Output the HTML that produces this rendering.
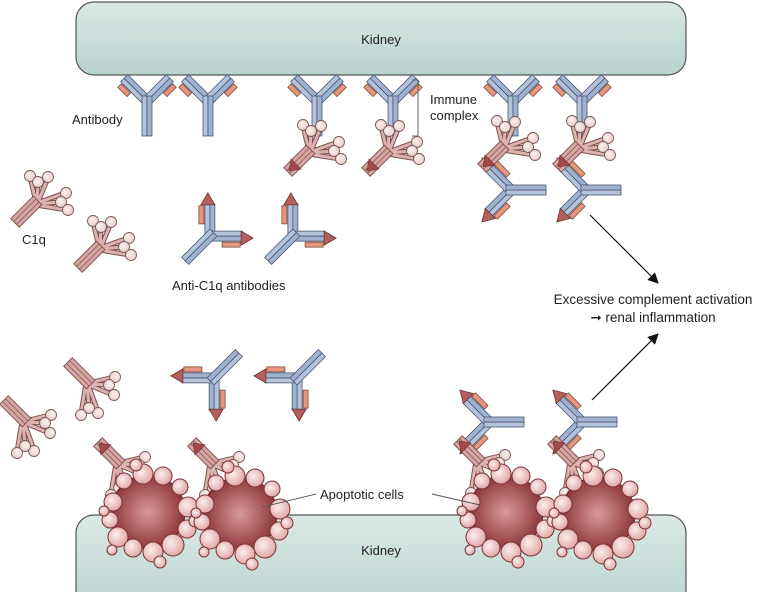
<!DOCTYPE html>
<html><head><meta charset="utf-8"><style>
html,body{margin:0;padding:0;background:#fff}
svg{display:block}
text{font-family:"Liberation Sans",sans-serif;fill:#222}
</style></head><body>
<svg width="770" height="592" viewBox="0 0 770 592" xmlns="http://www.w3.org/2000/svg">
<defs>
<linearGradient id="kid" x1="0" y1="0" x2="0" y2="1"><stop offset="0" stop-color="#dbe9e6"/><stop offset="1" stop-color="#b8d2cd"/></linearGradient>
<radialGradient id="cellg" cx="0.5" cy="0.5" r="0.5"><stop offset="0" stop-color="#d89a98"/><stop offset="1" stop-color="#8c3638"/></radialGradient>
<radialGradient id="bub" cx="0.4" cy="0.4" r="0.6"><stop offset="0" stop-color="#fbeeee"/><stop offset="1" stop-color="#e2a8a8"/></radialGradient>
<radialGradient id="ball" cx="0.4" cy="0.4" r="0.6"><stop offset="0" stop-color="#fbf1ef"/><stop offset="1" stop-color="#e8cfcc"/></radialGradient>
<g id="arm">
  <rect x="-5" y="-28" width="5" height="30" fill="#b3c3dc" stroke="#4b5672" stroke-width="0.8"/>
  <rect x="0" y="-28" width="5" height="30" fill="#9fb2d0" stroke="#4b5672" stroke-width="0.8"/>
</g>
<g id="ab">
  <g transform="translate(-3,0) rotate(-45)"><use href="#arm"/><rect x="-11" y="-26" width="5" height="13" fill="#e8977c" stroke="#7a4a40" stroke-width="0.8"/></g>
  <g transform="translate(3,0) rotate(45)"><use href="#arm"/><rect x="6" y="-26" width="5" height="13" fill="#e8977c" stroke="#7a4a40" stroke-width="0.8"/></g>
  <rect x="-5" y="-2" width="5" height="40" fill="#b3c3dc" stroke="#4b5672" stroke-width="0.8"/>
  <rect x="0" y="-2" width="5" height="40" fill="#9fb2d0" stroke="#4b5672" stroke-width="0.8"/>
</g>
<g id="abx">
  <g transform="translate(-3,0) rotate(-45)"><use href="#arm"/><rect x="-11" y="-26" width="5" height="18" fill="#e8977c" stroke="#7a4a40" stroke-width="0.8"/><polygon points="-9,-27 5,-27 -2,-39" fill="#b4605c" stroke="#6e3030" stroke-width="0.8"/></g>
  <g transform="translate(3,0) rotate(45)"><use href="#arm"/><rect x="6" y="-26" width="5" height="18" fill="#e8977c" stroke="#7a4a40" stroke-width="0.8"/><polygon points="-5,-27 9,-27 2,-39" fill="#b4605c" stroke="#6e3030" stroke-width="0.8"/></g>
  <rect x="-5" y="-2" width="5" height="40" fill="#b3c3dc" stroke="#4b5672" stroke-width="0.8"/>
  <rect x="0" y="-2" width="5" height="40" fill="#9fb2d0" stroke="#4b5672" stroke-width="0.8"/>
</g>
<g id="c1q">
  <g stroke="#7a5250" stroke-width="5" stroke-linecap="round" fill="none">
    <path d="M21,-21 L15,-46 M22,-21 L23,-40 M23,-21 L33,-45 M22,-20 L50,-30 M22,-19 L45,-21 M21,-18 L52,-13"/>
  </g>
  <g stroke="#dcb3ae" stroke-width="3" stroke-linecap="round" fill="none">
    <path d="M21,-21 L15,-46 M22,-21 L23,-40 M23,-21 L33,-45 M22,-20 L50,-30 M22,-19 L45,-21 M21,-18 L52,-13"/>
  </g>
  <g transform="rotate(45)">
    <rect x="-6" y="-32" width="12" height="32" fill="#d6a7a2" stroke="#7a4a48" stroke-width="0.9"/>
    <line x1="-2" y1="-32" x2="-2" y2="0" stroke="#8a5a58" stroke-width="0.8"/>
    <line x1="2" y1="-32" x2="2" y2="0" stroke="#8a5a58" stroke-width="0.8"/>
  </g>
  <g fill="url(#ball)" stroke="#7a5a58" stroke-width="0.9">
    <circle cx="15" cy="-47" r="5.5"/><circle cx="23" cy="-41" r="5.5"/><circle cx="33" cy="-46" r="5.5"/>
    <circle cx="51" cy="-30" r="5.5"/><circle cx="46" cy="-21" r="5.5"/><circle cx="53" cy="-13" r="5.5"/>
  </g>
</g>
<g id="c1qd">
  <use href="#c1q"/>
  <polygon points="1,-1 13,-3 3,-13" fill="#a24a4a" stroke="#6e3030" stroke-width="0.6"/>
</g>
<g id="cell">
  <circle r="37" fill="url(#cellg)" stroke="#6b2a2a" stroke-width="1"/>
  <g fill="url(#bub)" stroke="#7a3434" stroke-width="1">
    <circle cx="-35" cy="-10" r="9"/><circle cx="-38" cy="8" r="8"/><circle cx="-30" cy="25" r="10"/>
    <circle cx="-15" cy="36" r="9"/><circle cx="5" cy="40" r="10"/><circle cx="25" cy="33" r="11"/>
    <circle cx="39" cy="17" r="9"/><circle cx="40" cy="-5" r="10"/><circle cx="32" cy="-25" r="8"/>
    <circle cx="15" cy="-36" r="9"/><circle cx="-5" cy="-38" r="10"/><circle cx="-24" cy="-31" r="8"/>
    <circle cx="-12" cy="-47" r="6"/><circle cx="47" cy="9" r="6"/><circle cx="-44" cy="-1" r="5"/><circle cx="12" cy="50" r="6"/>
    <circle cx="-36" cy="38" r="5"/>
  </g>
</g>
<marker id="ah" viewBox="0 0 10 10" refX="9" refY="5" markerWidth="9" markerHeight="9" orient="auto"><path d="M0,0 L10,5 L0,10 z" fill="#111"/></marker>
</defs>

<!-- kidneys -->
<rect x="76" y="2" width="610" height="73" rx="18" fill="url(#kid)" stroke="#555" stroke-width="1.2"/>
<rect x="76" y="515" width="610" height="100" rx="18" fill="url(#kid)" stroke="#555" stroke-width="1.2"/>
<text x="381" y="44" font-size="13" text-anchor="middle">Kidney</text>
<text x="381" y="555" font-size="13" text-anchor="middle">Kidney</text>

<!-- top antibodies -->
<use href="#ab" x="147" y="98"/>
<use href="#ab" x="208" y="98"/>
<use href="#ab" x="317" y="98"/>
<use href="#ab" x="393" y="98"/>
<use href="#ab" x="513" y="98"/>
<use href="#ab" x="582" y="98"/>

<!-- bound C1q top -->
<use href="#c1qd" x="288" y="172"/>
<use href="#c1qd" x="366" y="172"/>
<!-- right anti-C1q top -->
<use href="#abx" transform="translate(508,190) rotate(-90)"/>
<use href="#abx" transform="translate(583,190) rotate(-90)"/>
<use href="#c1qd" x="482" y="168"/>
<use href="#c1qd" x="557" y="168"/>

<!-- free C1q -->
<use href="#c1q" x="15" y="223"/>
<use href="#c1q" x="78" y="268"/>
<use href="#c1q" transform="translate(68,362) rotate(90)"/>
<use href="#c1q" transform="translate(4,400) rotate(90)"/>

<!-- anti-C1q free -->
<use href="#abx" transform="translate(212,234) rotate(45)"/>
<use href="#abx" transform="translate(295,234) rotate(45)"/>
<use href="#abx" transform="translate(212,380) rotate(-135)"/>
<use href="#abx" transform="translate(295,380) rotate(-135)"/>

<!-- bottom cells + C1q -->
<use href="#c1qd" transform="translate(98,442) rotate(90)"/>
<use href="#c1qd" transform="translate(192,442) rotate(90)"/>
<use href="#abx" transform="translate(486,422) rotate(-90)"/>
<use href="#abx" transform="translate(579,422) rotate(-90)"/>
<use href="#c1qd" transform="translate(458,440) rotate(90)"/>
<use href="#c1qd" transform="translate(552,440) rotate(90)"/>
<use href="#cell" x="148" y="512"/>
<use href="#cell" x="240" y="514"/>
<use href="#cell" x="506" y="512"/>
<use href="#cell" x="598" y="514"/>

<!-- labels -->
<text x="72" y="124" font-size="13">Antibody</text>
<text x="22" y="244" font-size="13">C1q</text>
<text x="172" y="290" font-size="13">Anti-C1q antibodies</text>
<text x="430" y="104" font-size="13">Immune</text>
<text x="430" y="120" font-size="13">complex</text>
<path d="M412,80 H418 V136 H412" fill="none" stroke="#666" stroke-width="1"/>
<text x="320" y="499" font-size="13">Apoptotic cells</text>
<line x1="316" y1="494" x2="262" y2="507" stroke="#555" stroke-width="0.9"/>
<line x1="432" y1="494" x2="480" y2="505" stroke="#555" stroke-width="0.9"/>
<text x="653" y="304" font-size="13.5" text-anchor="middle">Excessive complement activation</text>
<text x="653" y="322" font-size="13.5" text-anchor="middle">➞ renal inflammation</text>
<line x1="590" y1="215" x2="658" y2="283" stroke="#111" stroke-width="1.2" marker-end="url(#ah)"/>
<line x1="592" y1="400" x2="658" y2="334" stroke="#111" stroke-width="1.2" marker-end="url(#ah)"/>
</svg>
</body></html>
